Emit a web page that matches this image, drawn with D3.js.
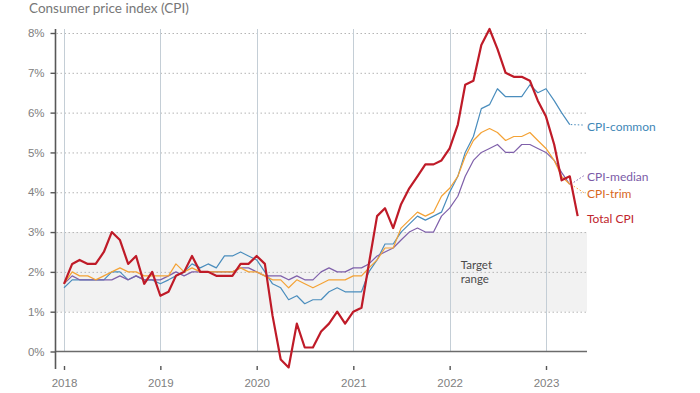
<!DOCTYPE html>
<html>
<head>
<meta charset="utf-8">
<style>
    body { margin: 0; background: #fff; }
    svg { font-family: Lato, "Open Sans", sans-serif; }
    .grid-h { stroke: #b5b5b5; stroke-dasharray: 1.5 2.5; }
    .grid-v { stroke: #c4ced6; }
    .tick text { fill: #808080; font-size: 11.5px; }
    .tick line { stroke: #555; stroke-width: 1.4; }
    .line { fill: none; stroke-linejoin: round; }
</style>
</head>
<body>
<svg id="chart" width="700" height="393"></svg>
<script src="https://d3js.org/d3.v7.min.js"></script>
<script>
    // monthly, year-over-year % change, starting Jan 2018
    const firstMonth = new Date(2018, 0, 1);
    const totalCpi = [
        1.7, 2.2, 2.3, 2.2, 2.2, 2.5, 3.0, 2.8, 2.2, 2.4, 1.7, 2.0,
        1.4, 1.5, 1.9, 2.0, 2.4, 2.0, 2.0, 1.9, 1.9, 1.9, 2.2, 2.2,
        2.4, 2.2, 0.9, -0.2, -0.4, 0.7, 0.1, 0.1, 0.5, 0.7, 1.0, 0.7,
        1.0, 1.1, 2.2, 3.4, 3.6, 3.1, 3.7, 4.1, 4.4, 4.7, 4.7, 4.8,
        5.1, 5.7, 6.7, 6.8, 7.7, 8.1, 7.6, 7.0, 6.9, 6.9, 6.8, 6.3,
        5.9, 5.2, 4.3, 4.4, 3.4
    ];
    const cpiCommon = [
        1.6, 1.8, 1.8, 1.8, 1.8, 1.8, 2.0, 2.0, 1.8, 1.9, 1.8, 1.8,
        1.7, 1.8, 1.9, 2.0, 2.2, 2.1, 2.2, 2.1, 2.4, 2.4, 2.5, 2.4,
        2.3, 2.0, 1.7, 1.6, 1.3, 1.4, 1.2, 1.3, 1.3, 1.5, 1.6, 1.5,
        1.5, 1.5, 2.0, 2.3, 2.7, 2.7, 3.0, 3.2, 3.4, 3.3, 3.4, 3.5,
        4.0, 4.4, 5.0, 5.4, 6.1, 6.2, 6.6, 6.4, 6.4, 6.4, 6.7, 6.5,
        6.6, 6.3, 6.0, 5.7
    ];
    const cpiMedian = [
        1.7, 1.9, 1.8, 1.8, 1.8, 1.8, 1.8, 1.9, 1.8, 1.9, 1.8, 1.8,
        1.8, 1.9, 2.0, 1.9, 2.0, 2.0, 2.0, 2.0, 2.0, 2.0, 2.1, 2.1,
        2.0, 1.9, 1.9, 1.9, 1.8, 1.9, 1.8, 1.8, 2.0, 2.1, 2.0, 2.0,
        2.1, 2.1, 2.2, 2.4, 2.5, 2.6, 2.8, 3.0, 3.1, 3.0, 3.0, 3.4,
        3.6, 3.9, 4.4, 4.8, 5.0, 5.1, 5.2, 5.0, 5.0, 5.2, 5.2, 5.1,
        5.0, 4.8, 4.5, 4.2
    ];
    const cpiTrim = [
        1.7, 2.0, 1.9, 1.9, 1.8, 1.9, 2.0, 2.1, 2.0, 2.0, 1.9, 1.9,
        1.9, 1.9, 2.2, 2.0, 2.1, 2.0, 2.0, 2.0, 2.0, 2.0, 2.1, 2.0,
        2.0, 1.9, 1.8, 1.8, 1.6, 1.8, 1.7, 1.6, 1.7, 1.8, 1.8, 1.8,
        1.9, 1.9, 2.1, 2.3, 2.6, 2.6, 3.1, 3.3, 3.5, 3.4, 3.5, 3.9,
        4.1, 4.4, 4.9, 5.3, 5.5, 5.6, 5.5, 5.3, 5.4, 5.4, 5.5, 5.3,
        5.1, 4.8, 4.4, 4.2
    ];
    const yTicks = [0, 1, 2, 3, 4, 5, 6, 7, 8];
    const yearTicks = [2018, 2019, 2020, 2021, 2022, 2023];
    const targetRange = [1, 3];

    // drawing order, label text and where the label sits (in % units)
    const series = [
        { name: "CPI-common", values: cpiCommon, color: "#4a8dbd", textColor: "#3f87b7", width: 1.2, labelAt: 5.65, leader: true },
        { name: "CPI-median", values: cpiMedian, color: "#7f60aa", textColor: "#7b5ba7", width: 1.2, labelAt: 4.38, leader: true },
        { name: "CPI-trim", values: cpiTrim, color: "#f4a235", textColor: "#d8681e", width: 1.2, labelAt: 3.95, leader: true },
        { name: "Total CPI", values: totalCpi, color: "#bf1b28", textColor: "#c0242c", width: 2.2, labelAt: 3.33, leader: false }
    ];

    const svg = d3.select("#chart");
    const plotLeft = 55.5, plotRight = 587, plotTop = 29, axisY = 366;

    let x = d3.scaleTime()
        .domain([new Date(2018, 0, 1), new Date(2023, 0, 1)])
        .range([64, 546]);
    let y = d3.scaleLinear()
        .domain([0, 8])
        .range([351.5, 33]);

    // title
    svg.append("text")
        .attr("x", 29)
        .attr("y", 13)
        .attr("fill", "#777")
        .style("font-size", "13.5px")
        .text("Consumer price index (CPI)");

    // target band
    svg.append("rect")
        .attr("x", plotLeft)
        .attr("y", y(targetRange[1]))
        .attr("width", plotRight - plotLeft)
        .attr("height", y(targetRange[0]) - y(targetRange[1]))
        .attr("fill", "#f2f2f2");

    svg.append("text")
        .attr("fill", "#4a4a4a")
        .style("font-size", "11.5px")
        .selectAll("tspan")
        .data(["Target", "range"])
        .enter()
        .append("tspan")
        .attr("x", x(new Date(2022, 1, 12)))
        .attr("y", (d, i) => y(2.17) + i * 14)
        .attr("dy", "0.35em")
        .text((d) => d);

    // grid
    svg.append("g").selectAll("line")
        .data(yTicks.filter((d) => d > 0))
        .enter()
        .append("line")
        .attr("class", "grid-h")
        .attr("x1", plotLeft + 1)
        .attr("x2", plotRight)
        .attr("y1", (d) => y(d) + 0.5)
        .attr("y2", (d) => y(d) + 0.5);

    svg.append("g").selectAll("line")
        .data(yearTicks)
        .enter()
        .append("line")
        .attr("class", "grid-v")
        .attr("x1", (d) => Math.round(x(new Date(d, 0, 1))) + 0.5)
        .attr("x2", (d) => Math.round(x(new Date(d, 0, 1))) + 0.5)
        .attr("y1", plotTop)
        .attr("y2", y(0));

    // zero line
    svg.append("line")
        .attr("x1", plotLeft)
        .attr("x2", plotRight)
        .attr("y1", y(0))
        .attr("y2", y(0))
        .attr("stroke", "#6b6b6b")
        .attr("stroke-width", 1.6);

    // axes
    let yAxis = svg.append("g")
        .attr("transform", "translate(" + plotLeft + ",0)")
        .call(d3.axisLeft(y).tickValues(yTicks).tickFormat((d) => d + "%").tickSize(5).tickPadding(6));
    yAxis.select(".domain").remove();

    let xAxis = svg.append("g")
        .attr("transform", "translate(0," + axisY + ")")
        .call(d3.axisBottom(x)
            .tickValues(yearTicks.map((d) => new Date(d, 0, 1)))
            .tickFormat(d3.timeFormat("%Y"))
            .tickSize(4)
            .tickPadding(9));
    xAxis.select(".domain").remove();

    svg.append("line")
        .attr("x1", plotLeft)
        .attr("x2", plotLeft)
        .attr("y1", plotTop)
        .attr("y2", 369)
        .attr("stroke", "#585858")
        .attr("stroke-width", 1.6);

    // lines
    let line = d3.line()
        .x((d, i) => x(d3.timeMonth.offset(firstMonth, i)))
        .y((d) => y(d));

    for (let s of series) {
        svg.append("path")
            .datum(s.values)
            .attr("class", "line")
            .attr("stroke", s.color)
            .attr("stroke-width", s.width)
            .attr("d", line);

        let n = s.values.length - 1;
        let endX = x(d3.timeMonth.offset(firstMonth, n));
        let endY = y(s.values[n]);
        if (s.leader) {
            svg.append("line")
                .attr("x1", endX + 1)
                .attr("y1", endY)
                .attr("x2", 584)
                .attr("y2", y(s.labelAt) - 1.5)
                .attr("stroke", s.color)
                .attr("stroke-width", 1)
                .attr("stroke-dasharray", "1.5 2");
        }
        svg.append("text")
            .attr("x", 587)
            .attr("y", y(s.labelAt))
            .attr("dy", "0.35em")
            .attr("fill", s.textColor)
            .style("font-size", "12px")
            .text(s.name);
    }
</script>
</body>
</html>
